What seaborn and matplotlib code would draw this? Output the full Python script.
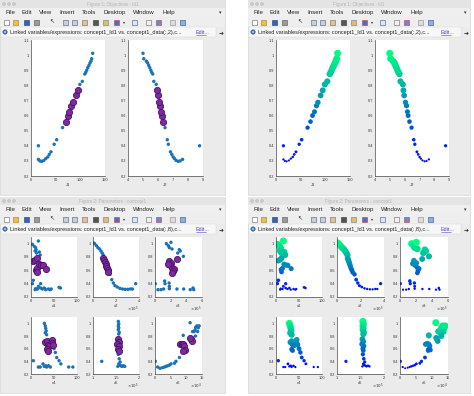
import numpy as np
import pandas as pd
import matplotlib
matplotlib.use("Agg")
import matplotlib.pyplot as plt
import matplotlib.patches as mpatches
import seaborn as sns

sns.set_style("white")
plt.rcParams['font.family'] = ['Liberation Sans', 'DejaVu Sans']

# ---------------- data ----------------
# Objectives (figure 1)
ld1 = [0.310, 0.300, 0.297, 0.303, 0.315, 0.326, 0.343, 0.360, 0.410, 0.440, 0.520,
       0.560, 0.600, 0.625, 0.665, 0.687, 0.733, 0.767,
       0.806, 0.826, 0.875, 0.886, 0.900, 0.917, 0.932, 0.948, 0.960, 0.976, 1.012, 0.400]
J1 = [15, 18, 21.6, 26, 30, 34, 37, 40.5, 47, 52, 64,
      70, 74, 78, 82, 85, 90.5, 94.6,
      99, 104, 109, 111, 113, 115, 117.5, 119.6, 121.6, 123, 125, 15]
J2 = [7.64, 7.48, 7.35, 7.21, 7.10, 7.01, 6.92, 6.83, 6.69, 6.62, 6.47,
      6.33, 6.24, 6.19, 6.13, 6.06, 5.97, 5.92,
      5.88, 5.72, 5.65, 5.58, 5.52, 5.45, 5.38, 5.31, 5.22, 5.05, 5.00, 8.77]
selected = [False] * 11 + [True] * 7 + [False] * 12

# Parameters (figure 2): unselected (b) and brushed (s) points per parameter
x1_b = [16, 3, 7, 10, 11, 9, 12, 18, 20, 5, 3, 10, 9, 14, 16, 21, 25, 29, 32, 38, 42, 44, 61, 64, 21]
y1_b = [1.04, 0.99, 0.96, 0.94, 0.91, 0.89, 0.86, 0.875, 0.83, 0.45, 0.40, 0.325, 0.31, 0.32, 0.36,
        0.335, 0.32, 0.335, 0.31, 0.32, 0.31, 0.32, 0.345, 0.335, 0.40]
x1_s = [5, 9, 12, 11, 14, 12, 17.5, 21, 25.5, 33]
y1_s = [0.745, 0.76, 0.78, 0.61, 0.63, 0.575, 0.69, 0.68, 0.675, 0.625]

x2_b = [0.05, 0.14, 0.29, 0.43, 0.57, 0.69, 0.80, 0.89, 1.49, 1.63, 1.77, 1.91, 2.11, 2.34, 2.57,
        2.80, 3.03, 3.26, 3.43, 3.71]
y2_b = [1.01, 1.00, 0.97, 0.94, 0.92, 0.89, 0.86, 0.83, 0.54, 0.46, 0.41, 0.37, 0.35, 0.33, 0.32,
        0.315, 0.315, 0.32, 0.32, 0.40]
x2_s = [0.91, 0.97, 1.03, 1.09, 1.14, 1.20, 1.27, 1.34]
y2_s = [0.78, 0.75, 0.72, 0.69, 0.66, 0.63, 0.60, 0.57]

x3_b = [1.45, 1.70, 1.83, 2.04, 2.17, 3.10, 3.23, 3.62, 1.23, 1.28, 1.83, 1.80, 0.38, 0.77, 1.10,
        1.83, 2.80, 3.66, 4.50, 4.85, 4.94, 0.04, 2.90]
y3_b = [1.00, 0.97, 0.94, 1.02, 0.92, 0.91, 0.89, 0.81, 0.44, 0.40, 0.36, 0.41, 0.31, 0.31, 0.32,
        0.325, 0.32, 0.32, 0.31, 0.335, 0.31, 0.40, 0.86]
x3_s = [1.74, 2.04, 1.91, 2.17, 2.38, 2.25, 2.17, 2.77, 1.60]
y3_s = [0.745, 0.71, 0.675, 0.64, 0.625, 0.59, 0.56, 0.77, 0.70]

x4_b = [29, 31, 32, 33, 31, 34, 53, 56, 61, 5, 16, 20, 26, 29, 34, 38, 42, 65, 82, 91, 32, 50]
y4_b = [1.00, 0.96, 0.92, 0.88, 0.85, 0.82, 0.54, 0.46, 0.41, 0.41, 0.31, 0.31, 0.36, 0.32, 0.31,
        0.33, 0.31, 0.36, 0.31, 0.31, 0.33, 0.60]
x4_s = [31, 34, 45, 45, 36, 40, 34, 36, 47]
y4_s = [0.70, 0.72, 0.74, 0.69, 0.66, 0.65, 0.59, 0.57, 0.66]

x5_b = [1.55, 1.56, 1.55, 1.56, 1.55, 1.57, 1.56, 1.55, 1.57, 1.59, 1.56, 1.58, 1.61, 1.63, 1.66,
        1.69, 1.54, 1.19]
y5_b = [1.03, 0.99, 0.96, 0.93, 0.90, 0.86, 0.83, 0.51, 0.44, 0.39, 0.36, 0.34, 0.33, 0.32, 0.33,
        0.32, 0.32, 0.40]
x5_s = [1.54, 1.56, 1.53, 1.57, 1.55, 1.56]
y5_s = [0.75, 0.71, 0.67, 0.64, 0.60, 0.57]

x6_b = [0.85, 1.6, 2.4, 3.0, 3.5, 4.0, 4.6, 5.1, 6.2, 6.7, 0.1, 9.0, 11.2, 12.0, 12.5, 12.8, 13.0,
        13.4, 13.8, 14.1, 13.6, 12.9, 7.8, 8.9]
y6_b = [0.31, 0.29, 0.30, 0.31, 0.32, 0.33, 0.34, 0.36, 0.37, 0.40, 0.40, 0.81, 1.01, 0.87, 0.87,
        0.90, 0.94, 0.96, 0.93, 0.96, 0.87, 0.80, 0.46, 0.59]
x6_s = [8.0, 8.5, 9.0, 9.3, 9.5, 8.8, 11.5, 11.8, 11.3]
y6_s = [0.67, 0.68, 0.67, 0.64, 0.58, 0.57, 0.75, 0.72, 0.77]

param_names = ["x1", "x2", "x3", "x4", "x5", "x6"]
param_xlim = [(0, 100), (0, 4), (0, 6), (0, 100), (1, 2), (0, 15)]
param_xticks = [[0, 50, 100], [0, 2, 4], [0, 2, 4, 6], [0, 50, 100], [1, 1.5, 2], [0, 5, 10, 15]]
param_exp = ["", "5", "5", "", "5", "4"]
param_b = [(x1_b, y1_b), (x2_b, y2_b), (x3_b, y3_b), (x4_b, y4_b), (x5_b, y5_b), (x6_b, y6_b)]
param_s = [(x1_s, y1_s), (x2_s, y2_s), (x3_s, y3_s), (x4_s, y4_s), (x5_s, y5_s), (x6_s, y6_s)]

menu_items = ["File", "Edit", "View", "Insert", "Tools", "Desktop", "Window", "Help"]
menu_x = [6, 22, 39, 59, 82, 104, 133, 163]

# ---------------- figure ----------------
W, H = 474, 396
fig = plt.figure(figsize=(W / 100, H / 100), dpi=100)
fig.patch.set_facecolor("white")

bg = fig.add_axes([0, 0, 1, 1])
bg.set_xlim(0, W)
bg.set_ylim(H, 0)
bg.axis("off")

BLUE = "#1a72b8"
PURPLE = "#7d2a9e"
PURPLE_EDGE = "#4b0f6b"


def rect(x, y, w, h, fc, ec="none", lw=0.0, z=1):
    bg.add_patch(mpatches.Rectangle((x, y), w, h, facecolor=fc, edgecolor=ec, linewidth=lw, zorder=z))


def window(x0, y0, w, h, title, linked):
    rect(x0, y0, w, h, "#ebebeb", "#d0d0d0", 0.4)
    rect(x0, y0, w, 8, "#e4e4e4")
    for i in range(3):
        bg.add_patch(mpatches.Circle((x0 + 4 + 5 * i, y0 + 4), 1.5, facecolor="#c9c9c9",
                                     edgecolor="#b8b8b8", linewidth=0.3, zorder=2))
    bg.text(x0 + w / 2, y0 + 4.2, title, fontsize=3.3, color="#b5b5b5", ha="center", va="center", zorder=3)
    rect(x0, y0 + 8, w, 9, "#efefef")
    for m, mx in zip(menu_items, menu_x):
        bg.text(x0 + mx, y0 + 12.7, m, fontsize=4.4, color="#222222", ha="left", va="center", zorder=3)
    bg.text(x0 + w - 5, y0 + 12.5, "\u25be", fontsize=3.5, color="#333333", ha="center", va="center", zorder=3)
    # toolbar
    ty = y0 + 22
    rect(x0, y0 + 17, w, 10, "#eeeeee")
    icons = [(7, "white", "#666666"), (16, "#e9c14a", "#a07a10"), (27, "#3b63b5", "#1d3d80"),
             (37, "#9a9a9a", "#555555"), (66, "#c8d0dc", "#4a5a75"), (75, "#c8d0dc", "#4a5a75"),
             (85, "#d9c3a0", "#7a6a50"), (96, "#555555", "#333333"), (106, "#d8c070", "#777777"),
             (117, "#4a6fbf", "#c04040"), (135, "#dfe6f2", "#3a5a8a"), (149, "#f2f2f2", "#666666"),
             (159, "#6a8ad0", "#b04040"), (173, "#dddddd", "#888888"), (183, "#8fb0e0", "#2b4e8a")]
    for ix, fc, ec in icons:
        rect(x0 + ix - 2.5, ty - 2.5, 5, 5, fc, ec, 0.4, z=2)
    bg.text(x0 + 52, ty, "\u2196", fontsize=4.5, color="#333333", ha="center", va="center", zorder=3)
    bg.text(x0 + 124, ty + 0.3, "\u25be", fontsize=3, color="#333333", ha="center", va="center", zorder=3)
    # linked bar
    rect(x0 + 1, y0 + 27, w - 10, 10, "#f7f7f7", "#d6d6d6", 0.3)
    bg.add_patch(mpatches.Circle((x0 + 5, y0 + 32), 2.2, facecolor="#3d6fc4", edgecolor="#26478a",
                                 linewidth=0.3, zorder=3))
    bg.add_patch(mpatches.Circle((x0 + 5, y0 + 32), 0.8, facecolor="white", edgecolor="none", zorder=4))
    bg.text(x0 + 10, y0 + 32.3, "Linked variables/expressions: concept1_ld1 vs. " + linked,
            fontsize=4.0, color="#222222", ha="left", va="center", zorder=3)
    bg.text(x0 + w - 29, y0 + 32.3, "Edit...", fontsize=3.9, color="#5b3fd6", ha="left", va="center",
            zorder=3)
    bg.plot([x0 + w - 29, x0 + w - 19], [y0 + 34.6, y0 + 34.6], color="#5b3fd6", lw=0.4, zorder=3)
    bg.text(x0 + w - 4, y0 + 32.3, "\u2794", fontsize=4.2, color="#222222", ha="center", va="center",
            zorder=3)


def add_ax(x0, y0, x1, y1):
    return fig.add_axes([x0 / W, 1 - y1 / H, (x1 - x0) / W, (y1 - y0) / H])


def style_ax(ax, xlim, xticks, ylim, yticks, xlabel, exp=""):
    ax.set_facecolor("white")
    ax.set_xlim(*xlim)
    ax.set_ylim(*ylim)
    ax.set_xticks(xticks)
    ax.set_xticklabels([f"{v:g}" for v in xticks])
    ax.set_yticks(yticks)
    ax.set_yticklabels([f"{round(v, 2):g}" for v in yticks])
    for sp in ["top", "right"]:
        ax.spines[sp].set_visible(False)
    for sp in ["left", "bottom"]:
        ax.spines[sp].set_linewidth(0.45)
        ax.spines[sp].set_color("#333333")
    ax.tick_params(direction="in", length=1.4, width=0.35, labelsize=2.8, pad=1.2, colors="#333333")
    ax.set_xlabel(xlabel, fontsize=3.0, labelpad=1.0, color="#333333")
    ax.set_ylabel("")
    if exp:
        ax.text(1.0, -0.13, r"$\times10^{%s}$" % exp, transform=ax.transAxes, fontsize=2.8,
                ha="right", va="top", color="#333333")


def scatter_linked(ax, xb, yb, xs, ys):
    sns.scatterplot(x=xb, y=yb, ax=ax, color=BLUE, s=6, edgecolor="none", linewidth=0, legend=False)
    sns.scatterplot(x=xs, y=ys, ax=ax, color=PURPLE, s=20, edgecolor=PURPLE_EDGE, linewidth=0.6,
                    legend=False)


def scatter_colored(ax, xv, yv):
    df = pd.DataFrame({"x": xv, "y": yv})
    sns.scatterplot(data=df, x="x", y="y", hue="y", size="y", ax=ax, palette="winter",
                    hue_norm=(0.29, 1.02), sizes=(2, 26), size_norm=(0.29, 1.02),
                    edgecolor="none", linewidth=0, legend=False)


# windows
wins = {
    "TL": (0, 0, 225, 195),
    "TR": (248, 0, 222, 195),
    "BL": (0, 197, 225, 196),
    "BR": (248, 197, 222, 196),
}
window(*wins["TL"], "Figure 1: Objectives - ld1", "concept1_data(:,2),c...")
window(*wins["TR"], "Figure 1: Objectives - ld1", "concept1_data(:,2),c...")
window(*wins["BL"], "Figure 2: Parameters - concept1", "concept1_data(:,8),c...")
window(*wins["BR"], "Figure 2: Parameters - concept1", "concept1_data(:,8),c...")

top_yt = [0.2, 0.3, 0.4, 0.5, 0.6, 0.7, 0.8, 0.9, 1.0, 1.1]
bot_yt = [0.2, 0.4, 0.6, 0.8, 1.0]

J1_sel = [v for v, s in zip(J1, selected) if s]
J1_uns = [v for v, s in zip(J1, selected) if not s]
J2_sel = [v for v, s in zip(J2, selected) if s]
J2_uns = [v for v, s in zip(J2, selected) if not s]
ld_sel = [v for v, s in zip(ld1, selected) if s]
ld_uns = [v for v, s in zip(ld1, selected) if not s]

# top-left: brushed
ax = add_ax(31, 40, 105, 176)
scatter_linked(ax, J1_uns, ld_uns, J1_sel, ld_sel)
style_ax(ax, (0, 150), [0, 50, 100, 150], (0.2, 1.1), top_yt, "J1")
ax = add_ax(128, 40, 203, 176)
scatter_linked(ax, J2_uns, ld_uns, J2_sel, ld_sel)
style_ax(ax, (4, 9), [4, 5, 6, 7, 8, 9], (0.2, 1.1), top_yt, "J2")

# top-right: colored by ld1
ax = add_ax(276, 40, 350, 176)
scatter_colored(ax, J1, ld1)
style_ax(ax, (0, 150), [0, 50, 100, 150], (0.2, 1.1), top_yt, "J1")
ax = add_ax(375, 40, 449, 176)
scatter_colored(ax, J2, ld1)
style_ax(ax, (4, 9), [4, 5, 6, 7, 8, 9], (0.2, 1.1), top_yt, "J2")

# bottom panels
rows = [(237, 297), (317, 374)]
cols_left = [(31, 77), (93, 139), (155, 202)]
cols_right = [(276, 322), (337, 384), (400, 448)]
for i in range(6):
    r, c = divmod(i, 3)
    y0, y1 = rows[r]
    (xb, yb), (xs, ys) = param_b[i], param_s[i]
    ax = add_ax(cols_left[c][0], y0, cols_left[c][1], y1)
    scatter_linked(ax, xb, yb, xs, ys)
    style_ax(ax, param_xlim[i], param_xticks[i], (0.2, 1.1), bot_yt, param_names[i], param_exp[i])
    ax = add_ax(cols_right[c][0], y0, cols_right[c][1], y1)
    scatter_colored(ax, list(xb) + list(xs), list(yb) + list(ys))
    style_ax(ax, param_xlim[i], param_xticks[i], (0.2, 1.1), bot_yt, param_names[i], param_exp[i])

fig.savefig("out.png", dpi=100, facecolor="white")
